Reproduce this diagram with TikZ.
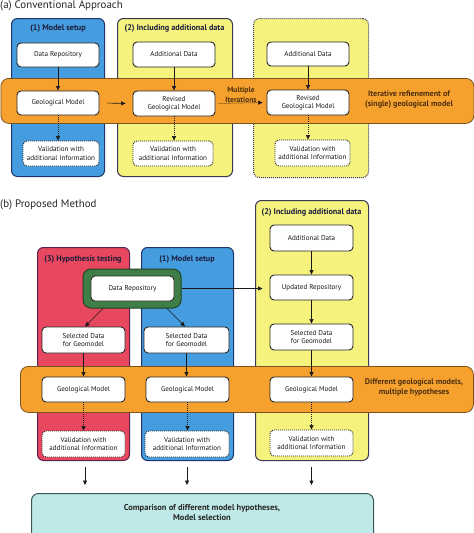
\documentclass[tikz,border=0pt]{standalone}
\usepackage{fontspec}
\setmainfont{PT Sans}
\usetikzlibrary{arrows.meta}
\definecolor{orng}{HTML}{F6A12D}
\definecolor{orngb}{HTML}{7A5322}
\definecolor{blu}{HTML}{459DE0}
\definecolor{blub}{HTML}{1F3468}
\definecolor{yel}{HTML}{F5F27E}
\definecolor{yelb}{HTML}{3A3A58}
\definecolor{redc}{HTML}{E8485F}
\definecolor{redb}{HTML}{5A2350}
\definecolor{grn}{HTML}{3F7F47}
\definecolor{grnb}{HTML}{1E4524}
\definecolor{cyn}{HTML}{BFE9E8}
\definecolor{cynb}{HTML}{3C5757}
\definecolor{brn}{HTML}{4E300E}
\definecolor{ttl}{HTML}{1C1C3C}
\tikzset{
  wbox/.style={draw=black!85, fill=white, rounded corners=4pt, line width=0.9pt,
    align=center, font=\fontsize{7.1}{8.1}\selectfont, text=black!90, inner sep=0pt},
  vbox/.style={wbox, dash pattern=on 1pt off 1pt},
  cont/.style={rounded corners=6pt, line width=1pt, anchor=north west, inner sep=0pt},
  band/.style={fill=orng, draw=orngb, rounded corners=8pt, line width=0.8pt, anchor=north west, inner sep=0pt},
  ctitle/.style={font=\bfseries\fontsize{8.2}{9.5}\selectfont, text=ttl, inner sep=0pt},
  btext/.style={font=\bfseries\fontsize{8.1}{9.6}\selectfont, text=brn, align=center, inner sep=0pt},
  mtitle/.style={font=\fontsize{10.9}{13}\selectfont, text=black!85, anchor=west, inner sep=0pt},
  arr/.style={-{Triangle[length=4.5pt,width=4pt]}, line width=0.6pt, draw=black!90},
  darr/.style={arr, dash pattern=on 1pt off 1pt},
}
\begin{document}
\begin{tikzpicture}[x=1pt,y=-1pt]
\useasboundingbox (0,0) rectangle (474,533);
% ---------------- (a) ----------------
\node[mtitle] (ta) at (0,6) {(a) Conventional Approach};
\node[cont, fill=blu, draw=blub, minimum width=93pt, minimum height=158pt] (ca1) at (11,18) {};
\node[cont, fill=yel, draw=yelb, minimum width=115pt, minimum height=158pt] (ca2) at (117,18) {};
\node[cont, fill=yel, draw=yelb, dash pattern=on 1pt off 1pt, minimum width=115pt, minimum height=159pt] (ca3) at (253,18) {};
\node[ctitle] (tca1) at (58,28.5) {(1) Model setup};
\node[ctitle] (tca2) at (174.5,28.5) {(2) Including additional data};
\node[band, minimum width=473pt, minimum height=45pt] (bnda) at (0.5,78) {};
\node[btext] (txa) at (409,99.5) {Iterative refienement of\\(single) geological model};
\node[wbox, minimum width=82pt, minimum height=24pt] (dr1) at (58,55) {Data Repository};
\node[wbox, minimum width=82pt, minimum height=24pt] (gm1) at (58,103) {Geological Model};
\node[vbox, minimum width=76pt, minimum height=25pt] (v1) at (61,153.5) {Validation with\\additional Information};
\node[wbox, minimum width=82pt, minimum height=25pt] (ad2) at (174,54.5) {Additional Data};
\node[wbox, minimum width=82pt, minimum height=25pt] (rg2) at (174,103.5) {Revised\\Geological Model};
\node[vbox, minimum width=80pt, minimum height=25pt] (v2) at (173,153.5) {Validation with\\additional Information};
\node[wbox, minimum width=82pt, minimum height=24pt] (ad3) at (308,54) {Additional Data};
\node[wbox, minimum width=82pt, minimum height=25pt] (rg3) at (308,102.5) {Revised\\Geological Model};
\node[vbox, minimum width=75pt, minimum height=26pt] (v3) at (312.5,153) {Validation with\\additional Information};
\draw[arr] (dr1) -- (gm1);
\draw[darr] (gm1.south) -- (gm1.south |- v1.north);
\draw[arr] (ad2) -- (rg2);
\draw[darr] (rg2.south) -- (rg2.south |- v2.north);
\draw[arr] (ad3) -- (rg3);
\draw[darr] (rg3.south) -- (rg3.south |- v3.north);
\draw[arr, shorten <=8pt, shorten >=7pt] (gm1.east) -- (rg2.west);
\draw[darr, shorten <=3pt, shorten >=4pt] (rg2.east) -- node[btext, font=\bfseries\fontsize{7.6}{9.4}\selectfont, above=0.5pt] (mi) {Multiple\\Iterations} (rg3.west);
% ---------------- (b) ----------------
\node[mtitle] (tb) at (0,205) {(b) Proposed Method};
\node[cont, fill=redc, draw=redb, minimum width=92pt, minimum height=213pt] (cb3) at (37,247) {};
\node[cont, fill=blu, draw=blub, minimum width=92pt, minimum height=213pt] (cb1) at (141,247) {};
\node[cont, fill=yel, draw=yelb, minimum width=113pt, minimum height=260pt] (cb2) at (255,200) {};
\node[ctitle] (tcb3) at (83,259) {(3) Hypothesis testing};
\node[ctitle] (tcb1) at (187,259) {(1) Model setup};
\node[ctitle] (tcb2) at (311.5,212) {(2) Including additional data};
\node[band, minimum width=453pt, minimum height=46pt] (bndb) at (20,366) {};
\node[btext] (txb) at (414,387.5) {Different geological models,\\multiple hypotheses};
% green repository
\node[fill=grn, draw=grnb, line width=1pt, rounded corners=8pt, minimum width=98pt, minimum height=39pt, inner sep=0pt] (g) at (132,288.5) {};
\node[wbox, minimum width=83pt, minimum height=25pt] (drb) at (132.5,288.5) {Data Repository};
\node[wbox, minimum width=83pt, minimum height=26pt] (sd1) at (83.5,340) {Selected Data\\for Geomodel};
\node[wbox, minimum width=85pt, minimum height=26pt] (sd2) at (186.5,340) {Selected Data\\for Geomodel};
\node[wbox, minimum width=83pt, minimum height=26pt] (adb) at (311.5,238) {Additional Data};
\node[wbox, minimum width=83pt, minimum height=25pt] (ur) at (311.5,287.5) {Updated Repository};
\node[wbox, minimum width=83pt, minimum height=26pt] (sd3) at (311.5,337) {Selected Data\\for Geomodel};
\node[wbox, minimum width=83pt, minimum height=25pt] (gb1) at (83.5,389.5) {Geological Model};
\node[wbox, minimum width=83pt, minimum height=25pt] (gb2) at (187.5,389.5) {Geological Model};
\node[wbox, minimum width=83pt, minimum height=25pt] (gb3) at (311.5,389.5) {Geological Model};
\node[vbox, minimum width=83pt, minimum height=26pt] (vb1) at (83.5,444) {Validation with\\additional Information};
\node[vbox, minimum width=84pt, minimum height=26pt] (vb2) at (187,444) {Validation with\\additional Information};
\node[vbox, minimum width=83pt, minimum height=26pt] (vb3) at (311.5,443) {Validation with\\additional Information};
\node[fill=cyn, draw=cynb, line width=1pt, rounded corners=7pt, anchor=north west, minimum width=342pt, minimum height=50pt, inner sep=0pt] (comp) at (31,493) {};
\node[font=\bfseries\fontsize{8.5}{10.8}\selectfont, text=black!85, align=center, inner sep=0pt] (ctext) at (202,512.5) {Comparison of different model hypotheses,\\Model selection};
\draw[arr] ([xshift=-29pt]g.south) -- ([xshift=1.5pt]sd1.north);
\draw[arr] ([xshift=35pt]g.south) -- ([xshift=-1.5pt]sd2.north);
\draw[arr, shorten >=7pt] (g.east) -- (g.east -| ur.west);
\draw[arr] (adb) -- (ur);
\draw[arr] (ur) -- (sd3);
\draw[arr] (sd1) -- (sd1 |- gb1.north);
\draw[arr] (sd2.south) -- (sd2.south |- gb2.north);
\draw[arr] (sd3) -- (gb3);
\draw[darr] (gb1) -- (gb1 |- vb1.north);
\draw[darr] (gb2.south) -- (gb2.south |- vb2.north);
\draw[darr] (gb3) -- (gb3 |- vb3.north);
\draw[arr, shorten <=10pt, shorten >=8pt] ([xshift=1.5pt]vb1.south) -- ([xshift=1.5pt]vb1.south |- comp.north);
\draw[arr, shorten <=10pt, shorten >=8pt] (vb2.south) -- (vb2.south |- comp.north);
\draw[arr, shorten <=11pt, shorten >=8pt] (vb3.south) -- (vb3.south |- comp.north);
\end{tikzpicture}
\end{document}
